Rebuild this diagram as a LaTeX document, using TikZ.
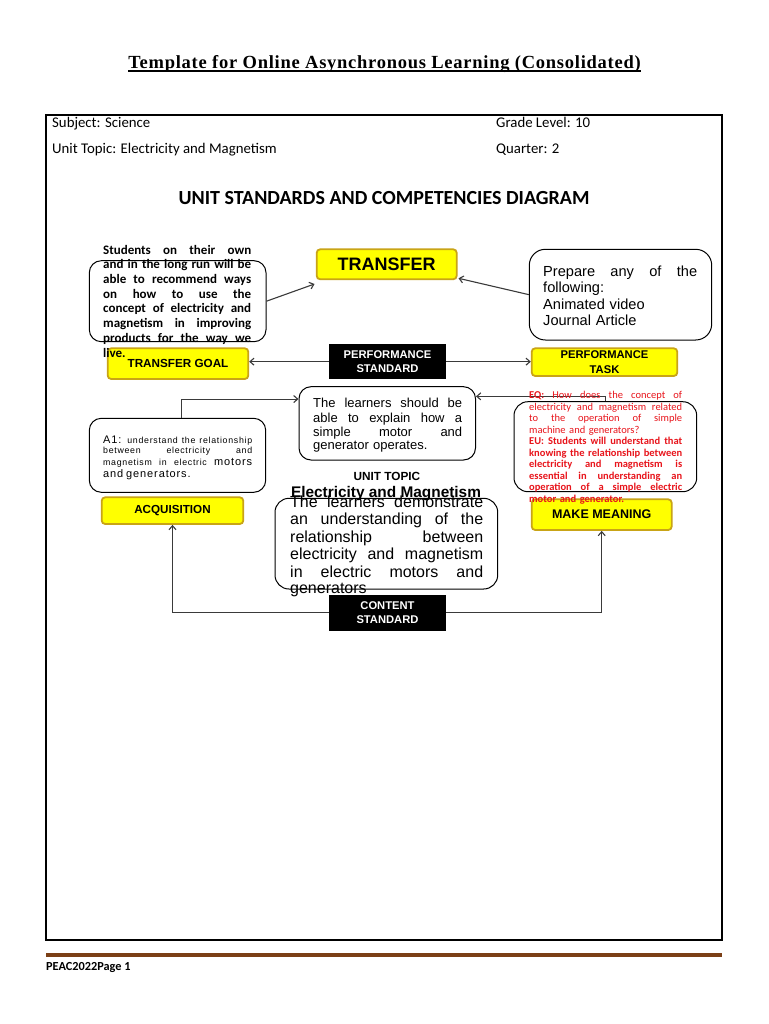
\documentclass[tikz,border=0pt]{standalone}
\usepackage{fontspec}
\setmainfont{Carlito}
\newfontfamily\arialf{Liberation Sans}
\newfontfamily\timesf{Liberation Serif}
\usetikzlibrary{arrows.meta}
\definecolor{ygold}{HTML}{C9A416}
\definecolor{yfill}{HTML}{FFFF00}
\definecolor{lnk}{HTML}{3A3A3A}
\definecolor{brownline}{HTML}{7B3F16}
\definecolor{eqred}{HTML}{E8141B}
\newlength\jw
\newcommand\jl[1]{\leavevmode\hbox to \jw{\spaceskip=0pt\xspaceskip=0pt\strut#1}}
\newcommand\fs[2]{\fontsize{#1}{#2}\selectfont}
\begin{document}
\begin{tikzpicture}[x=1pt,y=-1pt,
 rbox/.style={draw=black,line width=1pt,rounded corners=12pt,inner sep=0pt},
 ybox/.style={draw=ygold,fill=yfill,line width=1.8pt,rounded corners=3.5pt,inner sep=0pt,align=center},
 kbox/.style={fill=black,text=white,inner sep=0pt,font=\arialf\bfseries\fs{11.2}{13.8},align=center},
 arr/.style={draw=lnk,line width=1.1pt,-{Straight Barb[length=4pt,width=7pt]}},
 txt/.style={inner sep=0pt,anchor=north west,align=left,text width=#1,jwset=#1},
 jwset/.code={\global\jw=#1\relax},
 lbl/.style={inner sep=0pt},
]
\useasboundingbox (0,0) rectangle (768,1024);
\fill[white] (0,0) rectangle (768,1024);

% title
\node[lbl,anchor=base,font=\timesf\bfseries\fs{18.5}{20}\addfontfeatures{LetterSpace=4}] (title) at (384.5,68.3) {Template for Online Asynchronous Learning (Consolidated)};
\draw[line width=1.2pt] ([yshift=-2.7pt]title.base west) -- ([yshift=-2.7pt]title.base east);

% frame
\draw[line width=1.1pt] (46,115) rectangle (722,940);

\node[lbl,anchor=base west,font=\fs{14.8}{16}] (subj) at (52,127.5) {Subject: Science};
\node[lbl,anchor=base west,font=\fs{14.8}{16}] (grade) at (496,127.5) {Grade Level: 10};
\node[lbl,anchor=base west,font=\fs{14.8}{16}] (utopic) at (52,153.5) {Unit Topic: Electricity and Magnetism};
\node[lbl,anchor=base west,font=\fs{14.8}{16}] (quarter) at (496,153.5) {Quarter: 2};
\node[lbl,anchor=base,font=\bfseries\fs{20}{22}] (head) at (384,204.5) {UNIT STANDARDS AND COMPETENCIES DIAGRAM};

% boxes
\node[rbox,minimum width=176.7pt,minimum height=81pt] (lbox) at (177.65,301.2) {};
\node[ybox,minimum width=140pt,minimum height=30pt,font=\arialf\bfseries\fs{18}{20}] (transfer) at (386.7,264.3) {TRANSFER};
\node[rbox,rounded corners=16pt,minimum width=182.4pt,minimum height=90.7pt] (rbox) at (620.5,294.65) {};
\node[kbox,minimum width=116.4pt,minimum height=35.3pt] (ps) at (387.5,361.65) {PERFORMANCE\\STANDARD};
\node[ybox,minimum width=140.6pt,minimum height=30.7pt,font=\arialf\bfseries\fs{11.7}{13}] (tg) at (178,363.65) {TRANSFER GOAL};
\node[ybox,minimum width=145.6pt,minimum height=27.7pt,font=\arialf\bfseries\fs{11.2}{14.4}] (pt) at (604.5,362.15) {PERFORMANCE\\TASK};
\node[rbox,minimum width=176.5pt,minimum height=73.3pt] (learn) at (387.25,423.35) {};
\node[rbox,minimum width=176.4pt,minimum height=74pt] (a1) at (177.5,455.3) {};
\node[ybox,minimum width=141.6pt,minimum height=26.7pt,font=\arialf\bfseries\fs{11.65}{13}] (acq) at (172.5,510.65) {ACQUISITION};
\node[rbox,rounded corners=14pt,minimum width=222.7pt,minimum height=90.7pt] (content) at (386.35,543.65) {};
\node[kbox,minimum width=116.4pt,minimum height=35.7pt] (cs) at (387.5,612.85) {CONTENT\\STANDARD};
\node[rbox,rounded corners=14pt,minimum width=182.7pt,minimum height=90pt] (eq) at (605.35,446.7) {};
\node[ybox,minimum width=140pt,minimum height=30.7pt,font=\arialf\bfseries\fs{12.5}{14}] (mm) at (601.7,514.65) {MAKE MEANING};

% connectors
\coordinate (tA) at (314.5,284);
\coordinate (tB) at (458.5,278.3);
\draw[arr] (lbox.east) -- (tA);
\draw[arr] (rbox.west) -- (tB);
\draw[arr] (ps.west) -- (ps.west -| tg.east);
\draw[arr] (ps.east) -- (ps.east -| pt.west);
\draw[arr] ([xshift=4.2pt]a1.north) |- ([yshift=24.3pt]learn.west);
\draw[arr] (eq.north) |- ([yshift=27pt]learn.east);
\draw[arr] (cs.west) -| (acq.south);
\draw[arr] (cs.east) -| (mm.south);

% texts
\node[txt=148pt,font=\bfseries\fs{13}{14.7}] (ltxt) at (103,243.7) {\jl{Students on their own}\\ \jl{and in the long run will be}\\ \jl{able to recommend ways}\\ \jl{on how to use the}\\ \jl{concept of electricity and}\\ \jl{magnetism in improving}\\ \jl{products for the way we}\\ \strut live.};

\node[txt=154pt,font=\arialf\fs{14.6}{15.1}] (rtxt) at (543,266.1) {\jl{Prepare any of the}\\ \strut following:\\ \strut Animated video\\ \strut Journal Article};

\node[txt=149pt,font=\arialf\fs{13}{13.1}] (learntxt) at (313,398.1) {\jl{The learners should be}\\ \jl{able to explain how a}\\ \jl{simple motor and}\\ \strut generator operates.};

\node[txt=149pt,font=\arialf\fs{8.8}{10.1}\addfontfeatures{LetterSpace=8}] (a1txt) at (103,436.1) {\jl{{\fs{11}{10.1}A1:} understand the relationship}\\ \jl{between electricity and}\\ \jl{magnetism in electric {\fs{11}{10.1}motors}}\\ {\fs{11}{10.1}\strut and generators.}};

\node[lbl,anchor=base,font=\arialf\bfseries\fs{11.8}{13}] (unittopic) at (386.9,480) {UNIT TOPIC};
\node[lbl,anchor=base,font=\arialf\bfseries\fs{15.4}{17}] (topic) at (386,497.5) {Electricity and Magnetism};

\node[txt=193pt,font=\arialf\fs{16}{16.3}] (ctxt) at (290,495.6) {\jl{The learners demonstrate}\\ \jl{an understanding of the}\\ \jl{relationship between}\\ \jl{electricity and magnetism}\\ \jl{in electric motors and}\\ \strut generators};

\node[txt=153pt,font=\fs{10.5}{11.5},text=eqred] (eqtxt) at (529,390.3) {\jl{\textbf{EQ:} How does the concept of}\\ \jl{electricity and magnetism related}\\ \jl{to the operation of simple}\\ \strut machine and generators?\\ \jl{\textbf{EU: Students will understand that}}\\ \jl{\textbf{knowing the relationship between}}\\ \jl{\textbf{electricity and magnetism is}}\\ \jl{\textbf{essential in understanding an}}\\ \jl{\textbf{operation of a simple electric}}\\ \strut\textbf{motor and generator.}};

% footer
\draw[brownline,line width=3.5pt] (46,955) -- (722,955);
\node[lbl,anchor=base west,font=\bfseries\fs{12.3}{14}] (footer) at (46,970) {PEAC2022Page 1};
\end{tikzpicture}
\end{document}
